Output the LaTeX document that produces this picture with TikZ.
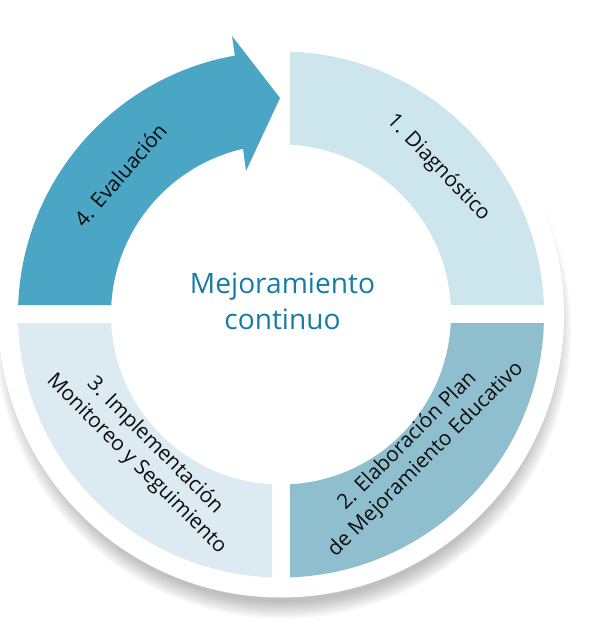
\documentclass[tikz,border=0pt]{standalone}
\usepackage{fontspec}
\setmainfont{Open Sans}
\usepackage{tikz}

\definecolor{diagcol}{RGB}{205,230,238}
\definecolor{elabcol}{RGB}{143,191,206}
\definecolor{implcol}{RGB}{220,235,241}
\definecolor{evalcol}{RGB}{75,165,196}
\definecolor{centrocol}{RGB}{22,124,166}

\begin{document}
\begin{tikzpicture}[
    scale=0.025,
    seglabel/.style={font=\fontsize{14.8}{18.5}\selectfont, text=black!95, align=center, inner sep=0pt},
    centrolabel/.style={font=\fontsize{20}{25.5}\selectfont, text=centrocol, align=center, inner sep=0pt}
]
\useasboundingbox (-281,-325.5) rectangle (317,314.5);
% --- Soft shadow under the white disc ---
\foreach \r in {272,274,...,288} {
    \fill[black, opacity=0.03] (2,-16) circle (\r);
}
\fill[white] (0,0) circle (283);
% --- Quadrants 1 to 3 ---
\foreach \col/\sx/\sy in {diagcol/1/1, elabcol/1/-1, implcol/-1/-1} {
    \begin{scope}
        \clip (9*\sx,9.5*\sy) rectangle (300*\sx,300*\sy);
        \fill[\col, even odd rule] (0,0) circle (263) circle (170);
    \end{scope}
}
% --- Quadrant 4 with its arrow head ---
\fill[evalcol] (177.93:263) arc[start angle=177.93, end angle=100.1, radius=263]
    -- (-49,278.5) -- (-1,216.5) -- (-35,143.5)
    -- (102.9:170) arc[start angle=102.9, end angle=176.8, radius=170] -- cycle;
% --- Labels ---
\node[seglabel, rotate=-46] (diag) at (43:215) {1. Diagnóstico};
\node[seglabel, rotate=45] (elab) at (-45:192) {2. Elaboración Plan\\de Mejoramiento Educativo};
\node[seglabel, rotate=-45] (impl) at (226:195) {3. Implementación\\Monitoreo y Seguimiento};
\node[seglabel, rotate=49] (eval) at (139:213) {4. Evaluación};
\node[centrolabel] (centro) at (1.5,13.5) {Mejoramiento\\continuo};
\end{tikzpicture}
\end{document}
